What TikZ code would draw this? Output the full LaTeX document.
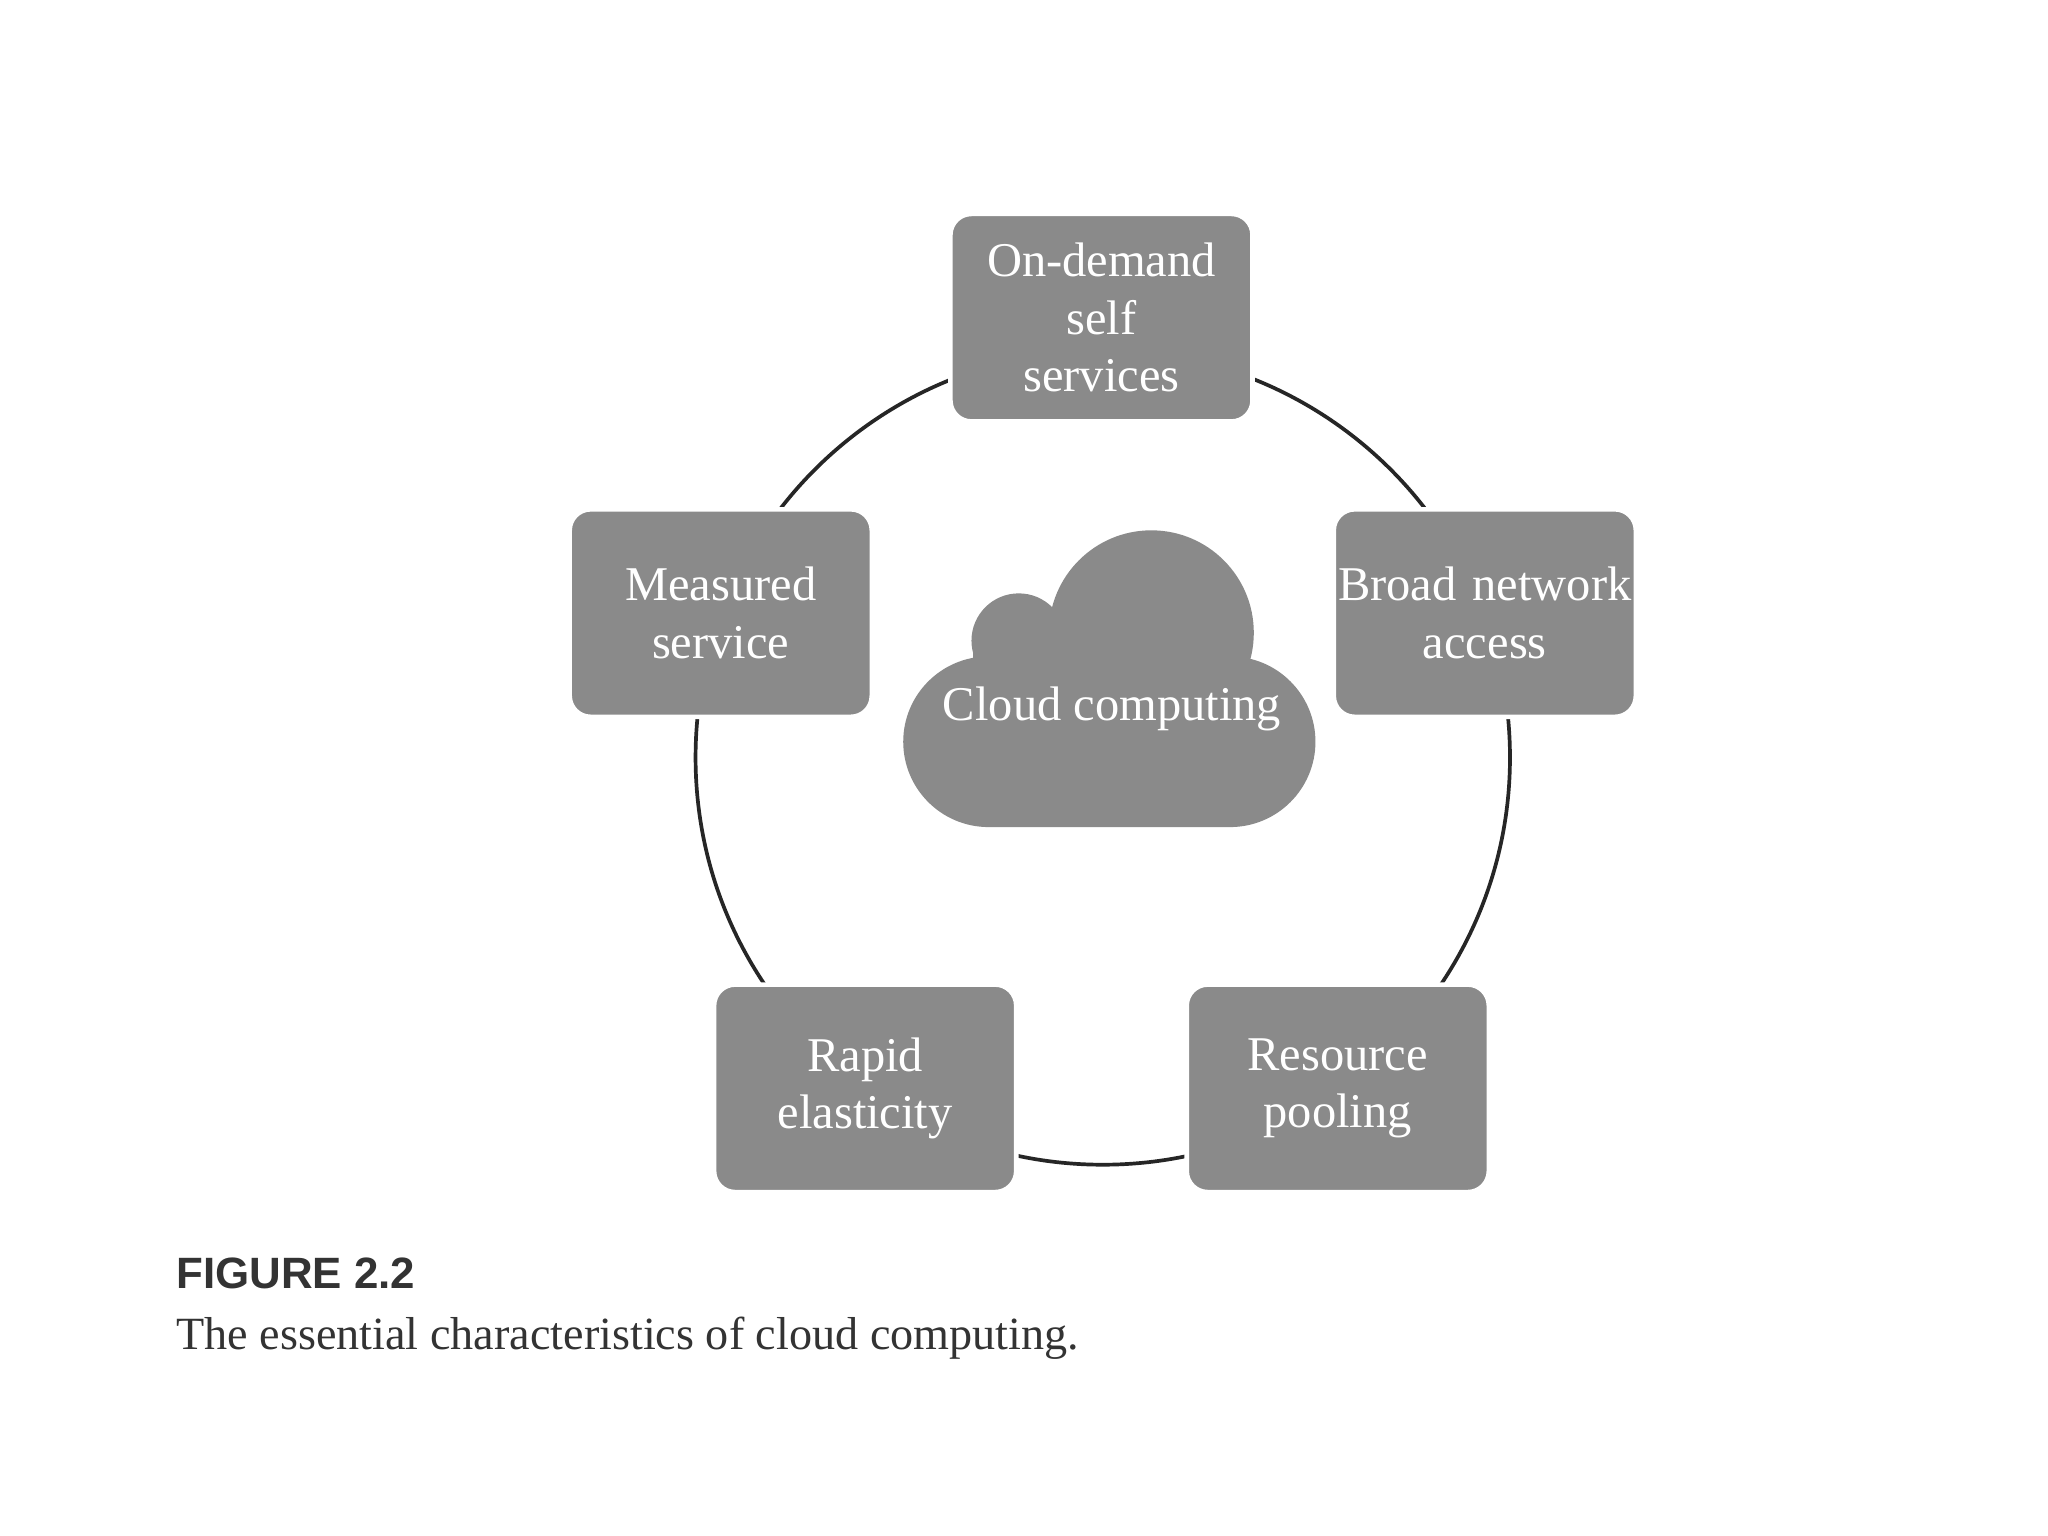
\documentclass[tikz,border=0pt]{standalone}
\usepackage{fontspec}
\setmainfont{Liberation Serif}
\newfontfamily\capsans{Liberation Sans}
\begin{document}
\begin{tikzpicture}[x=0.01cm,y=-0.01cm,
  box/.style={draw=white,line width=1pt,fill=boxgray,rounded corners=0.16cm,inner sep=0pt,text width=2.3cm,minimum height=1.58cm,text=white,align=center,font=\fontsize{10.5}{12.5}\selectfont},
  ring/.style={draw=black!85,line width=0.8pt}]
\definecolor{boxgray}{HTML}{8A8A8A}
\useasboundingbox (0,0) rectangle (1560,1170);
\fill[white] (0,0) rectangle (1560,1170);
\coordinate (c) at (840,577);
\draw[ring] (c) circle[radius=3.1cm];
\node[box] (ond) at (839,242) {On-demand\\self\\services};
\node[box] (mea) at (549,467) {Measured\\service};
\node[box] (bro) at (1131,467) {Broad network\\access};
\node[box] (rap) at (659,829) {Rapid elasticity};
\node[box] (res) at (1019,829) {Resource\\pooling};
\fill[boxgray] (688,500) [rounded corners=0.65cm] rectangle (1002,630);
\fill[boxgray] (877,482) circle[radius=0.78cm];
\fill[boxgray] (776,488) circle[radius=0.36cm];
\fill[boxgray] (741,490) rectangle (900,560);
\node[text=white,font=\fontsize{10.5}{12.5}\selectfont] (cloud) at (847,540) {Cloud computing};
\node[anchor=west,font=\capsans\bfseries\fontsize{9.5}{11}\selectfont,text=black!80] (fig) at (122,970) {FIGURE 2.2};
\node[anchor=west,font=\fontsize{10}{12}\selectfont,text=black!80] (capt) at (122,1019) {The essential characteristics of cloud computing.};
\end{tikzpicture}
\end{document}
